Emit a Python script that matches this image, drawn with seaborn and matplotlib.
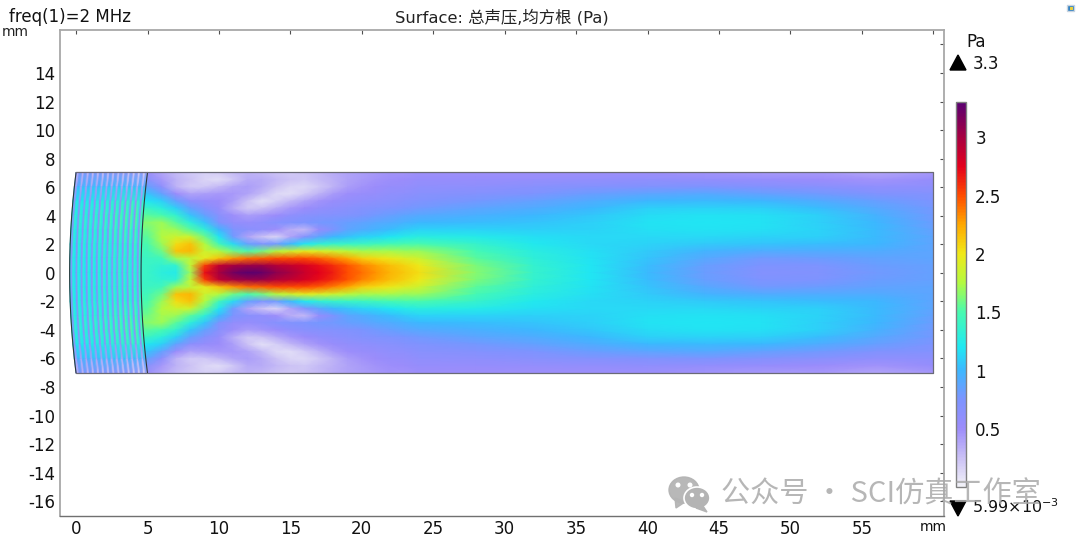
"""Surface plot of total sound pressure RMS, rebuilt with a seaborn heatmap"""

import matplotlib
matplotlib.use('Agg')  # Non-interactive backend
import matplotlib.pyplot as plt
from matplotlib.colors import LinearSegmentedColormap
from matplotlib.patches import Ellipse, Polygon, Rectangle
import numpy as np
import seaborn as sns

VMIN = 0.00599
VMAX = 3.3

# Colour bar stops (value, colour)
cmap_values = [0.0, 0.25, 0.5, 0.75, 1.0, 1.2, 1.5, 1.75, 2.0, 2.25, 2.5, 2.75, 3.0, 3.3]
cmap_colors = ['#f2f2f8', '#c9bff5', '#9c8cfb', '#7c94ff', '#3cb8ff', '#20e8f2', '#48fab0',
               '#b4fa40', '#f0e818', '#ffa800', '#ff4c00', '#e4001c', '#a80040', '#5a0070']

# Lens region, stripes from left to right: shoulder, trough, crest (y in mm, upper half)
lens_y = [7, 6, 5, 4, 3, 2, 1, 0]
lens_y7 = [.62, .3, .58, .66, .28, .6, .62, .26, .58, .64, .24, .58, .6, .24, .55, .6, .22, .55, .58, .22, .55, .58, .2, .52, .55, .2, .5, .55, .18, .5, .52, .18, .48, .5, .16, .46, .48, .16, .44, .46, .14, .42, .42]
lens_y6 = [1.0, .42, .98, 1.02, .4, 1.0, 1.04, .42, 1.0, 1.02, .4, 1.02, 1.05, .42, 1.02, 1.04, .4, 1.04, 1.06, .4, 1.04, 1.05, .4, 1.04, 1.06, .38, 1.04, 1.05, .38, 1.04, 1.05, .36, 1.02, 1.04, .36, 1.0, 1.02, .35, 1.0, 1.0, .35, .96, .95]
lens_y5 = [1.2, .55, 1.22, 1.22, .55, 1.24, 1.22, .56, 1.24, 1.24, .55, 1.26, 1.24, .56, 1.26, 1.26, .55, 1.28, 1.26, .55, 1.3, 1.28, .55, 1.3, 1.3, .54, 1.32, 1.3, .54, 1.34, 1.32, .54, 1.36, 1.32, .52, 1.36, 1.32, .52, 1.36, 1.3, .52, 1.34, 1.3]
lens_y4 = [1.24, .66, 1.34, 1.24, .66, 1.36, 1.26, .66, 1.38, 1.26, .66, 1.38, 1.26, .66, 1.4, 1.28, .66, 1.42, 1.28, .66, 1.44, 1.3, .66, 1.46, 1.3, .66, 1.48, 1.32, .64, 1.5, 1.32, .64, 1.52, 1.34, .64, 1.54, 1.34, .64, 1.54, 1.34, .64, 1.52, 1.32]
lens_y3 = [1.22, .68, 1.32, 1.22, .68, 1.34, 1.24, .7, 1.34, 1.24, .68, 1.36, 1.24, .7, 1.36, 1.26, .68, 1.38, 1.26, .7, 1.4, 1.26, .68, 1.42, 1.28, .68, 1.44, 1.28, .66, 1.46, 1.3, .66, 1.48, 1.3, .66, 1.5, 1.3, .66, 1.5, 1.32, .66, 1.5, 1.3]
lens_y2 = [1.2, .68, 1.3, 1.2, .7, 1.3, 1.22, .68, 1.32, 1.22, .7, 1.32, 1.22, .68, 1.34, 1.22, .7, 1.34, 1.24, .68, 1.36, 1.24, .68, 1.36, 1.24, .68, 1.38, 1.26, .68, 1.38, 1.26, .68, 1.4, 1.26, .68, 1.4, 1.26, .68, 1.42, 1.28, .68, 1.42, 1.28]
lens_y1 = [1.2, .66, 1.28, 1.2, .66, 1.3, 1.2, .66, 1.3, 1.2, .66, 1.32, 1.22, .68, 1.32, 1.22, .66, 1.32, 1.22, .66, 1.34, 1.22, .66, 1.34, 1.24, .66, 1.36, 1.24, .66, 1.36, 1.24, .66, 1.38, 1.24, .66, 1.38, 1.26, .66, 1.38, 1.26, .66, 1.38, 1.26]
lens_y0 = [1.18, .64, 1.26, 1.18, .64, 1.28, 1.2, .65, 1.28, 1.2, .64, 1.3, 1.2, .65, 1.3, 1.2, .64, 1.32, 1.22, .64, 1.32, 1.22, .64, 1.34, 1.22, .64, 1.34, 1.24, .64, 1.36, 1.24, .64, 1.36, 1.24, .64, 1.36, 1.24, .64, 1.36, 1.26, .64, 1.36, 1.26]

# Near field, columns x = 4..24 mm, one list per y (upper half)
near_y70 = [.5, .5, .38, .28, .22, .18, .2, .28, .32, .3, .25, .22, .25, .3, .36, .4, .42, .45, .47, .48, .5]
near_y65 = [.7, .65, .45, .32, .24, .16, .12, .22, .36, .36, .3, .24, .22, .28, .34, .4, .44, .47, .5, .52, .55]
near_y60 = [.9, .85, .62, .32, .2, .22, .3, .38, .42, .36, .24, .16, .14, .22, .32, .42, .48, .52, .55, .57, .6]
near_y55 = [1.05, 1.05, .85, .52, .4, .42, .45, .45, .4, .28, .14, .12, .2, .32, .44, .5, .54, .57, .6, .62, .65]
near_y50 = [1.2, 1.2, 1.1, .85, .62, .55, .52, .42, .25, .1, .18, .3, .4, .48, .54, .58, .6, .63, .66, .69, .72]
near_y45 = [1.4, 1.4, 1.3, 1.1, .85, .7, .55, .35, .2, .25, .35, .45, .52, .58, .62, .65, .7, .72, .74, .77, .8]
near_y40 = [1.55, 1.55, 1.5, 1.35, 1.05, .85, .65, .5, .42, .46, .52, .6, .65, .68, .7, .72, .76, .8, .83, .87, .9]
near_y35 = [1.65, 1.65, 1.7, 1.55, 1.3, 1.05, .75, .58, .55, .6, .68, .72, .75, .78, .8, .83, .86, .9, .93, .97, 1.0]
near_y30 = [1.6, 1.6, 1.72, 1.7, 1.55, 1.32, 1.0, .75, .65, .6, .5, .35, .3, .55, .75, .88, .92, .98, 1.03, 1.08, 1.12]
near_y25 = [1.55, 1.55, 1.75, 1.85, 1.85, 1.6, 1.2, .8, .4, .25, .15, .4, .7, .88, 1.0, 1.06, 1.12, 1.15, 1.2, 1.25, 1.28]
near_y20 = [1.5, 1.5, 1.7, 2.05, 2.15, 1.75, 1.45, 1.15, .85, .75, .8, 1.0, 1.2, 1.32, 1.38, 1.4, 1.42, 1.45, 1.48, 1.5, 1.5]
near_y15 = [1.45, 1.45, 1.6, 2.15, 2.2, 1.85, 1.75, 1.6, 1.5, 1.6, 1.75, 1.85, 1.95, 1.9, 1.85, 1.78, 1.72, 1.72, 1.72, 1.7, 1.7]
near_y10 = [1.42, 1.42, 1.45, 1.7, 1.8, 1.95, 2.15, 2.3, 2.4, 2.45, 2.5, 2.5, 2.5, 2.45, 2.35, 2.25, 2.1, 2.05, 1.98, 1.92, 1.85]
near_y05 = [1.4, 1.4, 1.35, 1.35, 1.8, 2.55, 2.9, 3.0, 3.05, 3.05, 2.95, 2.88, 2.8, 2.7, 2.6, 2.48, 2.36, 2.26, 2.16, 2.08, 2.0]
near_y00 = [1.4, 1.4, 1.3, 1.25, 1.7, 2.7, 3.0, 3.2, 3.3, 3.25, 3.1, 3.0, 2.85, 2.75, 2.65, 2.5, 2.4, 2.3, 2.2, 2.12, 2.05]

# Far field, columns x = 24, 28, ... 60 mm, one list per y (upper half)
far_y70 = [.5, .5, .5, .5, .5, .48, .45, .45, .38, .45]
far_y65 = [.55, .55, .57, .58, .6, .58, .55, .52, .48, .55]
far_y60 = [.6, .62, .66, .7, .72, .74, .7, .66, .6, .62]
far_y55 = [.65, .7, .75, .82, .88, .9, .85, .8, .72, .7]
far_y50 = [.72, .78, .85, .92, 1.0, 1.02, 1.0, .93, .83, .75]
far_y45 = [.8, .87, .93, 1.0, 1.1, 1.12, 1.1, 1.03, .9, .78]
far_y40 = [.9, .95, 1.0, 1.07, 1.16, 1.18, 1.17, 1.1, .97, .8]
far_y35 = [1.0, 1.03, 1.05, 1.1, 1.18, 1.2, 1.18, 1.1, 1.0, .82]
far_y30 = [1.12, 1.12, 1.1, 1.12, 1.17, 1.18, 1.17, 1.12, 1.02, .85]
far_y25 = [1.28, 1.25, 1.17, 1.15, 1.15, 1.15, 1.12, 1.1, 1.02, .87]
far_y20 = [1.5, 1.38, 1.22, 1.15, 1.12, 1.08, 1.05, 1.03, 1.0, .88]
far_y15 = [1.7, 1.48, 1.28, 1.17, 1.08, .98, .93, .92, .92, .88]
far_y10 = [1.85, 1.55, 1.32, 1.18, 1.05, .9, .8, .82, .86, .87]
far_y05 = [2.0, 1.62, 1.36, 1.2, 1.03, .84, .73, .75, .82, .85]
far_y00 = [2.05, 1.65, 1.38, 1.2, 1.02, .82, .7, .72, .8, .85]

x_ticks = [0, 5, 10, 15, 20, 25, 30, 35, 40, 45, 50, 55]
y_ticks = [14, 12, 10, 8, 6, 4, 2, 0, -2, -4, -6, -8, -10, -12, -14, -16]
cbar_ticks = [0.5, 1, 1.5, 2, 2.5, 3]
cbar_labels = ['0.5', '1', '1.5', '2', '2.5', '3']

W, H = 1080, 539
TEXT_SIZE = 12


def mirrored(rows):
    """Upper half rows (top to centre) to the full symmetric table"""
    upper = np.array(rows, dtype=float)
    return np.vstack([upper, upper[-2::-1]])


def field_panel(parent, table, x0, x1, **kws):
    """Smooth heatmap of one table, placed on the domain between x0 and x1"""
    inset = parent.inset_axes([x0, -7.03, x1 - x0, 14.06], transform=parent.transData)
    sns.heatmap(table, ax=inset, cmap=cmap, vmin=VMIN, vmax=VMAX, shading='gouraud',
                xticklabels=False, yticklabels=False, **kws)
    inset.set_xlim(0, table.shape[1] - 1)
    inset.set_ylim(table.shape[0] - 1, 0)
    inset.set_axis_off()
    inset.set_zorder(0.5)
    return inset


sns.set_theme(style='white')
plt.rcParams['font.family'] = ['DejaVu Sans', 'Noto Sans CJK SC']

cmap = LinearSegmentedColormap.from_list(
    'surface', list(zip([v / VMAX for v in cmap_values], cmap_colors)), N=256)

fig = plt.figure(figsize=(W / 100, H / 100), dpi=100, facecolor='white')
ax = fig.add_axes([59.5 / W, 1 - 516 / H, (944 - 59.5) / W, (516 - 30) / H])
ax.set_xlim(-1.16, 60.75)
ax.set_ylim(-17.04, 17.01)

cax = fig.add_axes([956 / W, 1 - 487 / H, 9.5 / W, (487 - 102) / H])

near_table = mirrored([near_y70, near_y65, near_y60, near_y55, near_y50, near_y45, near_y40,
                       near_y35, near_y30, near_y25, near_y20, near_y15, near_y10, near_y05,
                       near_y00])
far_table = mirrored([far_y70, far_y65, far_y60, far_y55, far_y50, far_y45, far_y40,
                      far_y35, far_y30, far_y25, far_y20, far_y15, far_y10, far_y05, far_y00])

field_panel(ax, near_table, 4, 24, cbar=False)
far_ax = field_panel(ax, far_table, 24, 60, cbar_ax=cax)

# Lens stripes follow the curved faces, so they need a bent mesh
lens_table = mirrored([lens_y7, lens_y6, lens_y5, lens_y4, lens_y3, lens_y2, lens_y1, lens_y0])
lens_rows = np.array(lens_y + [-v for v in lens_y[-2::-1]], dtype=float) * 7.03 / 7
lens_cols = np.linspace(0, 5, lens_table.shape[1])
sag = 0.45 * (1 - (lens_rows / 7.03) ** 2)
lens_x = lens_cols[None, :] - sag[:, None]
lens_yy = np.repeat(lens_rows[:, None], len(lens_cols), axis=1)
ax.pcolormesh(lens_x, lens_yy, lens_table, cmap=cmap, vmin=VMIN, vmax=VMAX,
              shading='gouraud', zorder=1)

# Domain outline and the two lens faces
arc_y = np.linspace(-7.03, 7.03, 60)
arc_sag = 0.45 * (1 - (arc_y / 7.03) ** 2)
ax.plot(-arc_sag, arc_y, color='#303838', lw=0.8, zorder=2)
ax.plot(5 - arc_sag, arc_y, color='#303838', lw=0.8, zorder=2)
ax.plot([0, 60, 60, 0], [7.03, 7.03, -7.03, -7.03], color='#6a6a78', lw=0.9, zorder=2)

# Axis box and ticks
for side in ['left', 'top', 'right']:
    ax.spines[side].set_color('#a8a8a8')
    ax.spines[side].set_linewidth(1.3)
ax.spines['bottom'].set_color('#707070')
ax.spines['bottom'].set_linewidth(1.0)

ax.set_xticks(x_ticks + [60])
ax.set_xticklabels([str(v) for v in x_ticks] + ['mm'])
ax.set_yticks(y_ticks + [16])
ax.set_yticklabels([str(v) for v in y_ticks] + [''])
ax.tick_params(axis='both', which='both', direction='in', length=3, width=0.8, color='#505050',
               top=True, right=True, labelsize=TEXT_SIZE, labelcolor='#111111', pad=3)
ax.get_xticklabels()[-1].set_fontsize(10)

# Colour bar
cbar = far_ax.collections[0].colorbar
cbar.set_ticks(cbar_ticks)
cbar.set_ticklabels(cbar_labels)
cax.tick_params(axis='y', direction='in', length=2.5, width=0.8, color='#404040', right=True,
                left=True, labelsize=TEXT_SIZE, labelcolor='#111111', pad=7)
cbar.outline.set_edgecolor('#808080')
cbar.outline.set_linewidth(1.0)

# Everything else is placed in picture pixels
over = fig.add_axes([0, 0, 1, 1], facecolor='none')
over.set_xlim(0, W)
over.set_ylim(H, 0)
over.set_axis_off()

over.text(9, 17, 'freq(1)=2 MHz', fontsize=TEXT_SIZE, color='#111111', va='center')
over.text(502, 17, 'Surface: 总声压,均方根 (Pa)', fontsize=11.8, color='#222222',
          ha='center', va='center')
over.text(2, 32, 'mm', fontsize=10, color='#222222', va='center')
over.text(966, 42, 'Pa', fontsize=TEXT_SIZE, color='#111111', va='center')
over.text(973, 64, '3.3', fontsize=TEXT_SIZE, color='#111111', va='center')
over.text(972, 507, r'5.99×10$^{-3}$', fontsize=11.5, color='#111111', va='center')
over.add_patch(Polygon([[950, 70], [966, 70], [958, 55]], color='black'))
over.add_patch(Polygon([[950, 501], [966, 501], [958, 516]], color='black'))
over.add_patch(Rectangle((1067, 5), 7, 6, facecolor='#2f7fc0', edgecolor='#c8d4e0', lw=1))
over.add_patch(Rectangle((1069.5, 7), 3, 2.5, facecolor='#e8d040', edgecolor='none'))

# Watermark
mark = '#b4b4b4'
over.add_patch(Ellipse((684, 490), 30, 26, color=mark, alpha=0.95))
over.add_patch(Polygon([[675, 498], [676, 508], [685, 502]], color=mark, alpha=0.95))
over.add_patch(Ellipse((697, 498), 26, 22, facecolor=mark, edgecolor='white', lw=1.2))
over.add_patch(Polygon([[703, 506], [707, 512], [696, 508]], color=mark))
for ex, ey, er in [(678, 485, 1.8), (690, 485, 1.8), (692, 495, 1.5), (702, 495, 1.5)]:
    over.add_patch(Ellipse((ex, ey), er * 2, er * 2, color='white'))
over.text(721, 495, '公众号 · SCI仿真工作室', fontsize=21, color='#aaaaaa', alpha=0.85,
          family=['Noto Sans CJK SC', 'DejaVu Sans'], va='center')

fig.savefig('out.png', dpi=100, facecolor='white')
plt.close(fig)
